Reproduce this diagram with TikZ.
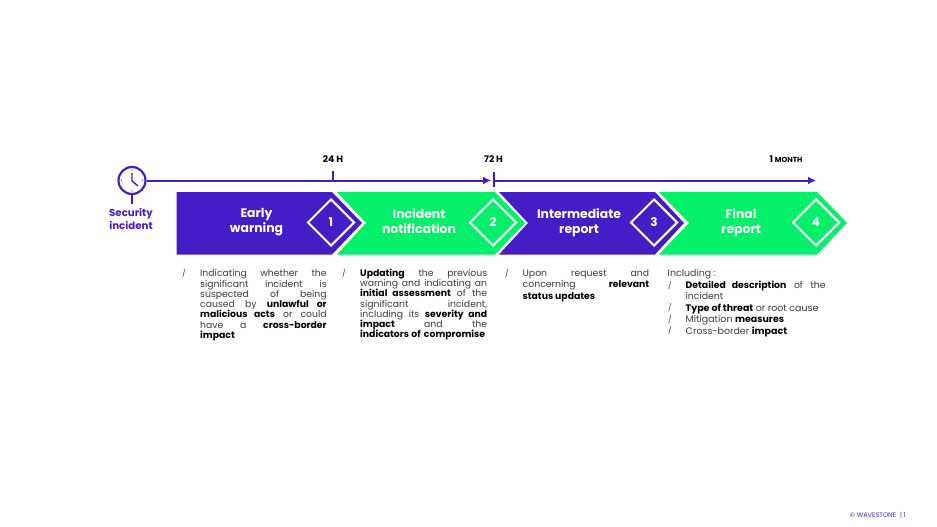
\documentclass[tikz,border=0pt]{standalone}
\usepackage{fontspec}
\setmainfont{Poppins}
\usetikzlibrary{shapes.geometric,arrows.meta,positioning}
\definecolor{wblue}{HTML}{451DC7}
\definecolor{wgreen}{HTML}{04F06A}
\definecolor{wtext}{HTML}{3C3C3C}
\hyphenpenalty=10000
\tikzset{
  stage/.style={align=center,text=white,font=\fontsize{12.4}{15}\selectfont\bfseries,execute at begin node=\strut},
  numbered/.style={diamond,draw=white,line width=2pt,minimum width=47pt,minimum height=47pt,
    inner sep=0pt,text=white,font=\fontsize{12}{13}\selectfont\bfseries},
  mark label/.style={text=black,font=\fontsize{9.2}{10}\selectfont\bfseries},
  timeline/.style={draw=wblue,line width=2pt},
  bodytext/.style={anchor=north west,inner sep=0pt,text width=#1,align=justify,text=wtext,
    font=\fontsize{9.3}{10.15}\selectfont,execute at begin node=\strut},
  plaintext/.style={anchor=north west,inner sep=0pt,text=wtext,
    font=\fontsize{9.45}{10.15}\selectfont,execute at begin node=\strut},
  slash/.style={anchor=north west,inner sep=0pt,text=wtext,
    font=\fontsize{7.5}{10.15}\selectfont,execute at begin node=\strut},
}
\newcommand*{\Dmd}[2]{\node[numbered] (d#1) at (#2,222.5) {#1};}
\newcommand*{\Bd}[1]{\textbf{\textcolor{black}{#1}}}
\begin{document}
\begin{tikzpicture}[x=1pt,y=-1pt]
    \useasboundingbox (0,0) rectangle (937,527);
    % clock
    \node[circle,draw=wblue,line width=2.2pt,minimum size=27pt,inner sep=0pt] (clock) at (132,180.5) {};
    \draw[wblue,line width=1.4pt] (132,172.5) -- (132,181) -- (138,186);
    \foreach \a in {0,90,180,270} \fill[wblue] (clock.center) ++(\a:10.5) circle (0.6);
    \node[text=wblue,align=center,font=\fontsize{10.2}{13}\selectfont\bfseries] (sec) at (131,219) {Security\\incident};
    \coordinate (stem) at (132,204);
    \draw[timeline] (clock.south) -- (stem);
    % time line
    \coordinate (t24) at (333,180.5);
    \coordinate (t24up) at (333,171);
    \coordinate (t72) at (494,180.5);
    \coordinate (t72up) at (494,172);
    \coordinate (t72dn) at (494,187);
    \coordinate (tend) at (816,180.5);
    \coordinate (tarr) at (491,180.5);
    \draw[timeline,-{Latex[length=8pt,width=8pt]}] (clock.east) -- (tarr);
    \draw[timeline,-{Latex[length=8pt,width=8pt]}] (t72) -- (tend);
    \draw[wblue,line width=1.6pt] (t24) -- (t24up);
    \draw[wblue,line width=1.6pt] (t72up) -- (t72dn);
    \node[mark label] (h24) at (333,159) {24 H};
    \node[mark label] (h72) at (493.5,159) {72 H};
    \node[mark label] (m1) at (786,159) {1 {\fontsize{7.3}{10}\selectfont MONTH}};
    % chevrons
    \fill[wblue] (176.5,192) -- (332,192) -- (362,223) -- (332,254.5) -- (176.5,254.5) -- cycle;
    \fill[wgreen] (337,192) -- (495,192) -- (525,223) -- (495,254.5) -- (337,254.5) -- (366,223) -- cycle;
    \fill[wblue] (499,192) -- (655,192) -- (684,223) -- (655,254.5) -- (499,254.5) -- (528,223) -- cycle;
    \fill[wgreen] (659,192) -- (817,192) -- (847,223) -- (817,254.5) -- (659,254.5) -- (689,223) -- cycle;
    \Dmd{1}{331} \Dmd{2}{493} \Dmd{3}{654} \Dmd{4}{816}
    \node[stage] (s1) at (256.5,223) {Early\\warning};
    \node[stage] (s2) at (419,223) {Incident\\notification};
    \node[stage] (s3) at (579,223) {Intermediate\\report};
    \node[stage] (s4) at (741,223) {Final\\report};
    % text below
    \node[slash] (b1) at (182,269) {/};
    \node[bodytext=126.5pt] (t1) at (200,269) {Indicating whether the\linebreak
      significant incident is\linebreak suspected of being\linebreak
      caused by \Bd{unlawful or}\linebreak \Bd{malicious acts} or could\linebreak
      have a \Bd{cross-border}\linebreak \Bd{impact}};
    \node[slash] (b2) at (342,269) {/};
    \node[bodytext=127pt] (t2) at (360,269) {\Bd{Updating} the previous\linebreak
      warning and indicating an\linebreak \Bd{initial assessment} of the\linebreak
      significant incident,\linebreak including its \Bd{severity and}\linebreak
      \Bd{impact} and the\linebreak \mbox{\Bd{indicators\hspace{2.4pt}of\hspace{3.2pt}compromise}}};
    \node[slash] (b3) at (505,269) {/};
    \node[bodytext=126.5pt,font=\fontsize{9.3}{11.6}\selectfont] (t3) at (522.5,268) {Upon request and\linebreak
      concerning \Bd{relevant}\linebreak \Bd{status updates}};
    \node[plaintext] (inc) at (667.5,269) {Including :};
    \node[slash] (b41) at (668,281) {/};
    \node[bodytext=140pt,font=\fontsize{9.3}{10.7}\selectfont] (t41) at (685.5,281) {\Bd{Detailed description} of the\linebreak incident};
    \node[slash] (b42) at (668,303.5) {/};
    \node[plaintext] (t42) at (685.5,303.5) {\Bd{Type of threat} or root cause};
    \node[slash] (b43) at (668,315) {/};
    \node[plaintext] (t43) at (685.5,315) {Mitigation \Bd{measures}};
    \node[slash] (b44) at (668,326.5) {/};
    \node[plaintext] (t44) at (685.5,326.5) {Cross-border \Bd{impact}};
    \node[anchor=east,inner sep=0pt,text=wblue,font=\fontsize{6.6}{7}\selectfont] (foot) at (906,515) {© WAVESTONE\hspace{2pt} | 1};
  \end{tikzpicture}
\end{document}
